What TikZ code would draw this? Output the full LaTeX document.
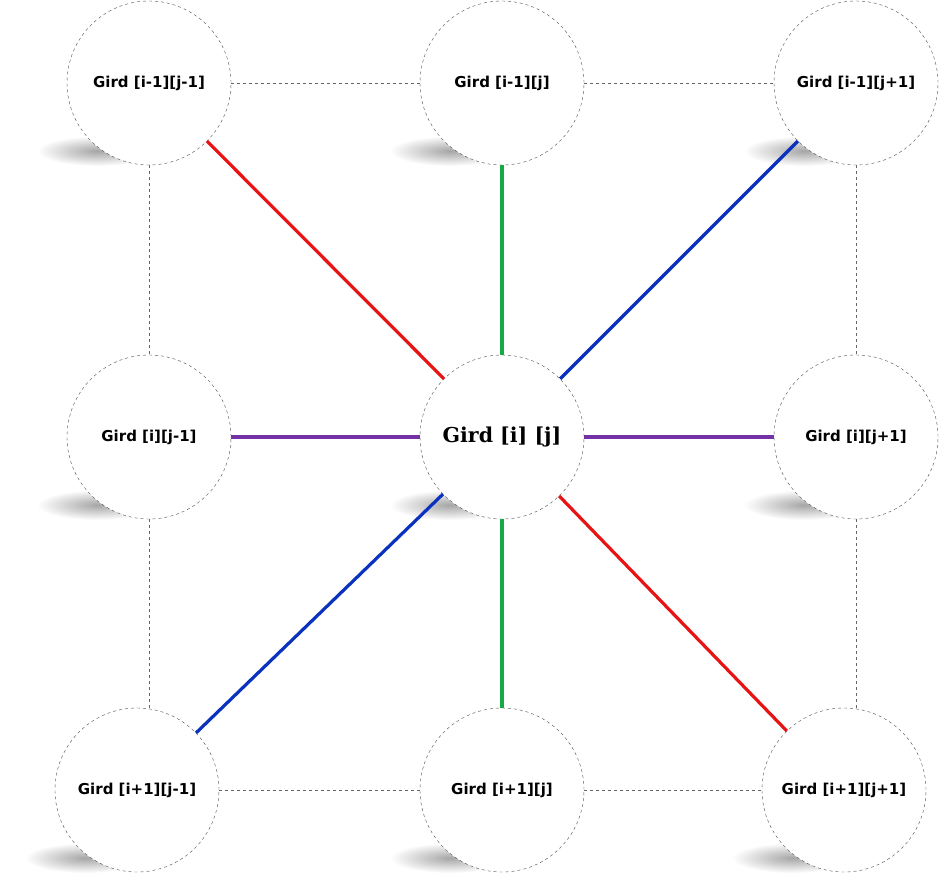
\documentclass[tikz,border=0pt]{standalone}
\usepackage{fontspec}
\setmainfont{DejaVu Sans}
\newfontfamily\serifb{DejaVu Serif}
\definecolor{cred}{RGB}{230,20,20}
\definecolor{cgreen}{RGB}{20,170,70}
\definecolor{cblue}{RGB}{10,50,190}
\definecolor{cpurple}{RGB}{115,50,165}
\begin{document}
\begin{tikzpicture}[x=1pt,y=-1pt,
  cell/.style={circle,draw=black!70,dashed,fill=white,minimum size=164pt,inner sep=0pt,font=\bfseries\fontsize{15}{17}\selectfont},
  grid/.style={draw=black!60,dashed,thin},
  link/.style={line width=3.2pt},
  shadowell/.style={inner color=black!35,outer color=white}]
\useasboundingbox (0,0) rectangle (950,885);
\foreach \x/\y in {149/83,502/83,856/83,149/437,502/437,856/437,137/790,502/790,844/790}
  \shade[shadowell] (\x-52,\y+68) ellipse (60 and 15);
\node[cell] (tl) at (149,83) {Gird [i-1][j-1]};
\node[cell] (tm) at (502,83) {Gird [i-1][j]};
\node[cell] (tr) at (856,83) {Gird [i-1][j+1]};
\node[cell] (ml) at (149,437) {Gird [i][j-1]};
\node[cell] (c) at (502,437) {\serifb\bfseries\fontsize{20.5}{23}\selectfont Gird [i] [j]};
\node[cell] (mr) at (856,437) {Gird [i][j+1]};
\node[cell] (bl) at (137,790) {Gird [i+1][j-1]};
\node[cell] (bm) at (502,790) {Gird [i+1][j]};
\node[cell] (br) at (844,790) {Gird [i+1][j+1]};
\draw[grid] (tl) -- (tm);
\draw[grid] (tm) -- (tr);
\draw[grid] (bl) -- (bm);
\draw[grid] (bm) -- (br);
\draw[grid] (tl) -- (ml);
\draw[grid] (tr) -- (mr);
\draw[grid] (ml.south) -- (ml.south |- bl.north);
\draw[grid] (mr.south) -- (mr.south |- br.north);
\draw[link,cred] (tl) -- (c);
\draw[link,cred] (c) -- (br);
\draw[link,cgreen] (tm) -- (c);
\draw[link,cgreen] (c) -- (bm);
\draw[link,cblue] (tr) -- (c);
\draw[link,cblue] (c) -- (bl);
\draw[link,cpurple] (ml) -- (c);
\draw[link,cpurple] (c) -- (mr);
\end{tikzpicture}
\end{document}
